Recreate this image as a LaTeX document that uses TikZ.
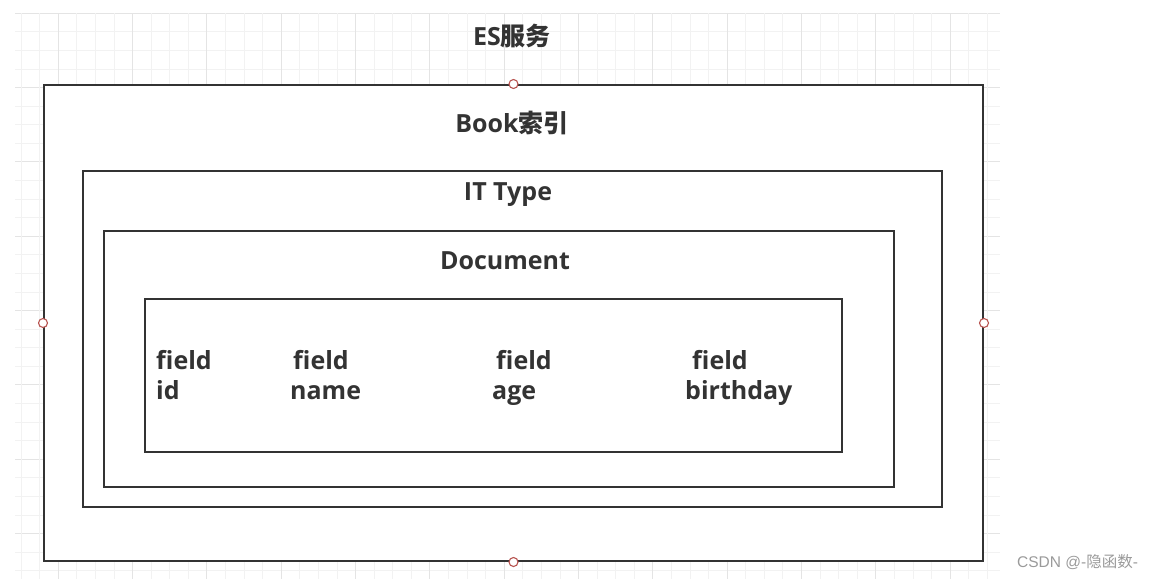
\documentclass[tikz,border=0pt]{standalone}
\usepackage{fontspec}
\setmainfont{Open Sans}
\newfontfamily\cjk{Noto Sans CJK SC}
\newfontfamily\wmlat{Liberation Sans}
\definecolor{ink}{HTML}{333333}
\definecolor{gridminor}{HTML}{F2F2F2}
\definecolor{gridmajor}{HTML}{E4E4E4}
\definecolor{handlec}{HTML}{B85450}
\definecolor{wmc}{HTML}{9A9A9A}
\tikzset{
  box/.style={draw=ink, line width=2pt, fill=white, inner sep=0pt, anchor=north west},
  handle/.style={circle, draw=handlec, fill=white, line width=1.1pt, minimum size=9pt, inner sep=0pt},
  lbl/.style={text=ink, font=\fontsize{25}{29}\selectfont\bfseries, inner sep=0pt, anchor=base},
  fld/.style={text=ink, font=\fontsize{25}{29}\selectfont\bfseries, inner sep=0pt, anchor=base west},
  wm/.style={text=wmc, font=\fontsize{15.5}{18}\selectfont, inner sep=0pt, anchor=base west}
}
\begin{document}
\begin{tikzpicture}[x=1pt,y=-1pt]
\useasboundingbox (0,0) rectangle (1155,579);
% grid
\foreach \j in {0,...,30} {
  \pgfmathsetmacro\yy{13.3+18.58*\j}
  \pgfmathtruncatemacro\m{mod(\j,4)}
  \ifnum\m=0 \draw[gridmajor, line width=0.9pt] (15,\yy) -- (1000,\yy);
  \else \draw[gridminor, line width=0.9pt] (15,\yy) -- (1000,\yy); \fi
}
\foreach \i in {-2,...,50} {
  \pgfmathsetmacro\xx{58.3+18.58*\i}
  \pgfmathtruncatemacro\m{mod(\i+8,4)}
  \ifnum\m=0 \draw[gridmajor, line width=0.9pt] (\xx,13.3) -- (\xx,579);
  \else \draw[gridminor, line width=0.9pt] (\xx,13.3) -- (\xx,579); \fi
}
% boxes
\node[box, minimum width=939pt, minimum height=476pt] (outer) at (43,84) {};
\node[box, minimum width=859pt, minimum height=336pt] (ittype) at (82,170) {};
\node[box, minimum width=790pt, minimum height=256pt] (doc) at (103,230) {};
\node[box, minimum width=697pt, minimum height=153pt] (inner) at (144,298) {};
% handles
\node[handle] (hn) at (outer.north) {};
\node[handle] (hs) at (outer.south) {};
\node[handle] (hw) at (outer.west) {};
\node[handle] (he) at (outer.east) {};
% labels
\node[lbl] (t0) at (512,45) {ES{\cjk\bfseries 服务}};
\node[lbl] (t1) at (512,132) {Book{\cjk\bfseries 索引}};
\node[lbl] (t2) at (508,200) {IT Type};
\node[lbl] (t3) at (505,269) {Document};
% fields
\node[fld] (f1a) at (156,369) {field};
\node[fld] (f1b) at (156,399) {id};
\node[fld] (f2a) at (293,369) {field};
\node[fld] (f2b) at (290,399) {name};
\node[fld] (f3a) at (496,369) {field};
\node[fld] (f3b) at (492,399) {age};
\node[fld] (f4a) at (692,369) {field};
\node[fld] (f4b) at (685,399) {birthday};
% watermark
\node[wm] (wm) at (1017,567) {{\wmlat CSDN @-}{\cjk 隐函数}{\wmlat -}};
\end{tikzpicture}
\end{document}
